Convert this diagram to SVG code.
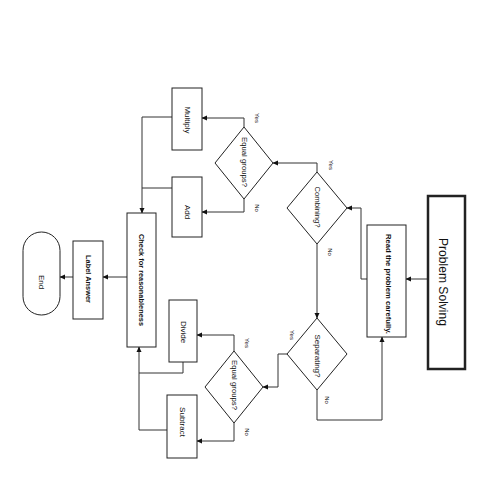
<svg xmlns="http://www.w3.org/2000/svg" width="495" height="495" viewBox="0 0 495 495">
<defs>
<marker id="ah" markerWidth="6" markerHeight="6" refX="5" refY="3" orient="auto" markerUnits="userSpaceOnUse">
<path d="M0,0.5 L5.5,3 L0,5.5 z" fill="#111"/>
</marker>
<style>
.box{fill:#fff;stroke:#222;stroke-width:1}
.c{fill:none;stroke:#333;stroke-width:1}
.t{font-family:"Liberation Sans",Arial,sans-serif;fill:#111;text-anchor:middle;dominant-baseline:central}
.s{font-size:8px}
.b{font-weight:bold}
.l{font-size:6px}
</style>
</defs>
<rect width="495" height="495" fill="#fff"/>
<g id="connectors">
<polyline class="c" points="428,279 406,279" marker-end="url(#ah)"/>
<polyline class="c" points="367,279 361,279 361,208 347,208" marker-end="url(#ah)"/>
<polyline class="c" points="317,172 317,163 273,163" marker-end="url(#ah)"/>
<polyline class="c" points="317,244 317,318" marker-end="url(#ah)"/>
<polyline class="c" points="287,354 278,354 278,387 263,387" marker-end="url(#ah)"/>
<polyline class="c" points="317,390 317,420 382,420 382,337" marker-end="url(#ah)"/>
<polyline class="c" points="244,127 244,118 202,118" marker-end="url(#ah)"/>
<polyline class="c" points="244,199 244,212 202,212" marker-end="url(#ah)"/>
<polyline class="c" points="234,351 234,335 197,335" marker-end="url(#ah)"/>
<polyline class="c" points="234,423 234,441 197,441" marker-end="url(#ah)"/>
<polyline class="c" points="172,117 142,117 142,213" marker-end="url(#ah)"/>
<polyline class="c" points="172,188 142,188"/>
<polyline class="c" points="183,362 183,373 139,373 139,347" marker-end="url(#ah)"/>
<polyline class="c" points="167,430 139,430 139,373"/>
<polyline class="c" points="127,277 103,277" marker-end="url(#ah)"/>
<polyline class="c" points="73,277 60,277" marker-end="url(#ah)"/>
</g>
<g id="labels">
<text class="t l" transform="translate(331,165) rotate(90)">Yes</text>
<text class="t l" transform="translate(330,252) rotate(90)">No</text>
<text class="t l" transform="translate(257,118) rotate(90)">Yes</text>
<text class="t l" transform="translate(257,208) rotate(90)">No</text>
<text class="t l" transform="translate(292,335) rotate(90)">Yes</text>
<text class="t l" transform="translate(327,400) rotate(90)">No</text>
<text class="t l" transform="translate(247,343) rotate(90)">Yes</text>
<text class="t l" transform="translate(247,432) rotate(90)">No</text>
</g>
<g id="problem-solving">
<rect class="box" x="428" y="196" width="37" height="173" style="stroke-width:2.5"/>
<text class="t" font-size="13" transform="translate(443,282) rotate(90)" textLength="88" lengthAdjust="spacingAndGlyphs">Problem Solving</text>
</g>
<g id="read">
<rect class="box" x="367" y="225" width="39" height="112"/>
<text class="t s b" transform="translate(388,284) rotate(90)" textLength="100" lengthAdjust="spacingAndGlyphs">Read the problem carefully.</text>
</g>
<g id="combining">
<polygon class="box" points="317,172 347,208 317,244 287,208"/>
<text class="t s" transform="translate(317,207) rotate(90)" textLength="41" lengthAdjust="spacingAndGlyphs">Combining?</text>
</g>
<g id="separating">
<polygon class="box" points="317,318 347,354 317,390 287,354"/>
<text class="t s" transform="translate(317,356) rotate(90)" textLength="43" lengthAdjust="spacingAndGlyphs">Separating?</text>
</g>
<g id="equal-groups-1">
<polygon class="box" points="244,127 273,163 244,199 215,163"/>
<text class="t s" transform="translate(244,162) rotate(90)" textLength="50" lengthAdjust="spacingAndGlyphs">Equal groups?</text>
</g>
<g id="equal-groups-2">
<polygon class="box" points="234,351 263,387 234,423 205,387"/>
<text class="t s" transform="translate(234,385) rotate(90)" textLength="50" lengthAdjust="spacingAndGlyphs">Equal groups?</text>
</g>
<g id="multiply">
<rect class="box" x="172" y="88" width="30" height="62"/>
<text class="t s" transform="translate(187,120) rotate(90)">Multiply</text>
</g>
<g id="add">
<rect class="box" x="172" y="177" width="30" height="60"/>
<text class="t s" transform="translate(187,212) rotate(90)">Add</text>
</g>
<g id="divide">
<rect class="box" x="169" y="300" width="28" height="62"/>
<text class="t s" transform="translate(183,332) rotate(90)">Divide</text>
</g>
<g id="subtract">
<rect class="box" x="167" y="395" width="30" height="63"/>
<text class="t s" transform="translate(182,422) rotate(90)">Subtract</text>
</g>
<g id="check">
<rect class="box" x="127" y="213" width="29" height="134"/>
<text class="t s b" transform="translate(141,280) rotate(90)" textLength="92" lengthAdjust="spacingAndGlyphs">Check for reasonableness</text>
</g>
<g id="label-answer">
<rect class="box" x="73" y="241" width="30" height="78"/>
<text class="t s b" transform="translate(88,279) rotate(90)" textLength="48" lengthAdjust="spacingAndGlyphs">Label Answer</text>
</g>
<g id="end">
<rect class="box" x="23" y="232" width="37" height="83" rx="18.5" ry="18.5"/>
<text class="t s" transform="translate(41,282) rotate(90)">End</text>
</g>
</svg>
